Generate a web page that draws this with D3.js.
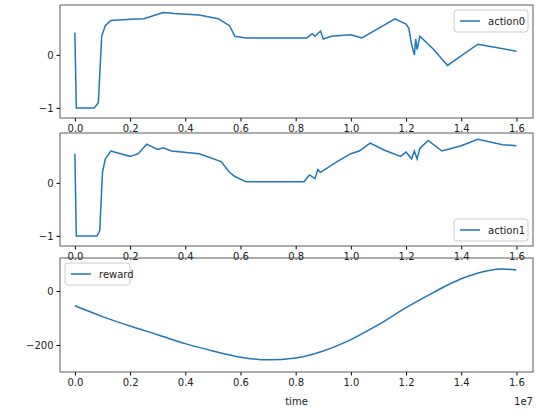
<!DOCTYPE html>
<html><head><meta charset="utf-8">
<script src="https://cdn.jsdelivr.net/npm/d3@7"></script>
<style>body{margin:0;background:#fff}text{font-family:"DejaVu Sans",sans-serif;font-size:10px;fill:#222}</style>
</head><body><svg id="c" width="550" height="416"></svg>
<script>
// values in units of 1e7 for time
var action0 = [[0,0.42],[0.005,-1],[0.07,-1],[0.085,-0.9],[0.097,0.35],[0.11,0.55],[0.13,0.65],[0.2,0.67],[0.25,0.68],[0.32,0.8],[0.36,0.78],[0.45,0.75],[0.52,0.68],[0.56,0.55],[0.58,0.35],[0.62,0.32],[0.84,0.32],[0.86,0.4],[0.87,0.35],[0.89,0.45],[0.9,0.3],[0.93,0.35],[1.0,0.38],[1.04,0.32],[1.1,0.5],[1.16,0.68],[1.2,0.58],[1.21,0.5],[1.22,0.2],[1.23,0.0],[1.235,0.3],[1.24,0.1],[1.25,0.35],[1.3,0.1],[1.35,-0.2],[1.46,0.2],[1.6,0.07]];
var action1 = [[0,0.55],[0.005,-1],[0.08,-1],[0.09,-0.9],[0.1,0.2],[0.11,0.45],[0.13,0.6],[0.2,0.5],[0.23,0.55],[0.26,0.73],[0.3,0.63],[0.32,0.66],[0.35,0.6],[0.45,0.55],[0.53,0.4],[0.56,0.2],[0.58,0.12],[0.62,0.02],[0.83,0.02],[0.85,0.15],[0.87,0.08],[0.88,0.25],[0.89,0.2],[0.95,0.4],[1.0,0.55],[1.03,0.6],[1.07,0.75],[1.12,0.62],[1.18,0.5],[1.2,0.58],[1.22,0.45],[1.23,0.6],[1.24,0.45],[1.25,0.65],[1.28,0.8],[1.33,0.6],[1.4,0.7],[1.46,0.82],[1.55,0.72],[1.6,0.7]];
var reward = [[0,-55],[0.1,-95],[0.2,-130],[0.3,-162],[0.4,-195],[0.5,-222],[0.6,-245],[0.7,-255],[0.8,-248],[0.9,-222],[1.0,-180],[1.1,-125],[1.2,-62],[1.3,-5],[1.4,45],[1.5,76],[1.55,81],[1.6,78]];
var xTicks = [0,0.2,0.4,0.6,0.8,1.0,1.2,1.4,1.6];

var svg = d3.select("#c");
var left = 60, right = 533;
var x = d3.scaleLinear().domain([-0.054, 1.66]).range([left, right]);
var panels = [
  {data: action0, name: "action0", top: 5, bottom: 118, dom: [-1.19, 0.94], ticks: [-1, 0], legend: "tr"},
  {data: action1, name: "action1", top: 133, bottom: 246, dom: [-1.19, 0.94], ticks: [-1, 0], legend: "br"},
  {data: reward, name: "reward", top: 258, bottom: 372, dom: [-300, 122], ticks: [-200, 0], legend: "tl"}
];
panels.forEach(function(p){
  var y = d3.scaleLinear().domain(p.dom).range([p.bottom, p.top]);
  var g = svg.append("g");
  g.append("g").attr("transform", "translate(0," + p.bottom + ")")
    .call(d3.axisBottom(x).tickValues(xTicks).tickFormat(d3.format(".1f")).tickSize(3.5).tickSizeOuter(0));
  g.append("g").attr("transform", "translate(" + left + ",0)")
    .call(d3.axisLeft(y).tickValues(p.ticks).tickFormat(d3.format("d")).tickSize(3.5).tickSizeOuter(0));
  g.selectAll(".domain").remove();
  g.selectAll(".tick text").style("font-size", "10px");
  g.append("rect").attr("x", left).attr("y", p.top).attr("width", right - left).attr("height", p.bottom - p.top)
    .attr("fill", "none").attr("stroke", "#333").attr("stroke-width", 0.8);
  var line = d3.line().x(function(d){ return x(d[0]); }).y(function(d){ return y(d[1]); });
  if (p.name == "reward") line.curve(d3.curveMonotoneX);
  g.append("path").attr("d", line(p.data)).attr("fill", "none").attr("stroke", "#1f77b4").attr("stroke-width", 1.5);
  var lw = p.name == "reward" ? 65 : 74, lh = 22;
  var lx = p.legend == "tl" ? left + 5 : right - 5 - lw;
  var ly = p.legend == "br" ? p.bottom - 5 - lh : p.top + 5;
  var lg = g.append("g").attr("transform", "translate(" + lx + "," + ly + ")");
  lg.append("rect").attr("width", lw).attr("height", lh).attr("rx", 3).attr("fill", "#fff").attr("fill-opacity", 0.8).attr("stroke", "#ccc");
  lg.append("line").attr("x1", 6).attr("x2", 26).attr("y1", 11).attr("y2", 11).attr("stroke", "#1f77b4").attr("stroke-width", 1.5);
  lg.append("text").attr("x", 34).attr("y", 15).text(p.name);
});
svg.append("text").attr("x", (left + right) / 2).attr("y", 405).attr("text-anchor", "middle").text("time");
svg.append("text").attr("x", right).attr("y", 405).attr("text-anchor", "end").text("1e7");
</script></body></html>
